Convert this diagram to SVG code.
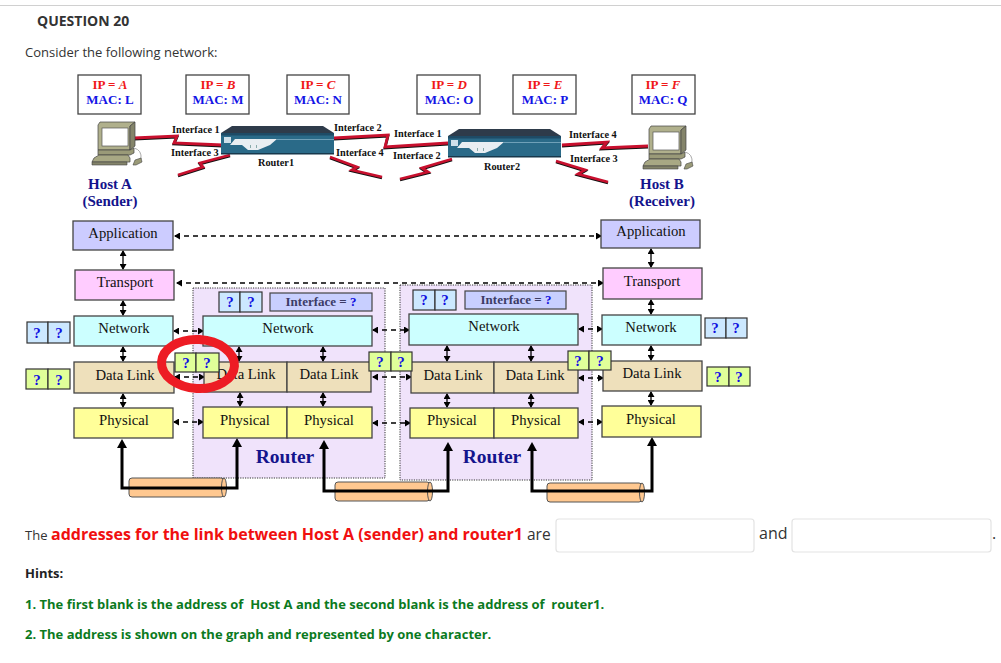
<svg xmlns="http://www.w3.org/2000/svg" xmlns:xlink="http://www.w3.org/1999/xlink" width="1001" height="663" viewBox="0 0 1001 663">
<style>
.s{font-family:"Liberation Serif","Times New Roman",serif}
.o{font-family:"Open Sans","Noto Sans",sans-serif}
.lay{font-family:"Liberation Serif",serif;font-size:14.7px;fill:#111;text-anchor:middle}
.box{stroke:#444;stroke-width:1.3}
.app{fill:#ccccff}.tra{fill:#ffccff}.net{fill:#ccffff}.dl{fill:#eee0bb}.phy{fill:#ffff99}
.q1{fill:#cce8ff;stroke:#333;stroke-width:1.2}.q2{fill:#e0ff99;stroke:#333;stroke-width:1.2}
.qt{font-family:"Liberation Serif",serif;font-size:15px;font-weight:bold;fill:#1010e0;text-anchor:middle}
.addr{fill:#fff;stroke:#444;stroke-width:1.3}
.ip{font-family:"Liberation Serif",serif;font-size:13px;font-weight:bold;fill:#f01818;text-anchor:middle}
.mac{font-family:"Liberation Serif",serif;font-size:13px;font-weight:bold;fill:#1414e6;text-anchor:middle}
.if{font-family:"Liberation Serif",serif;font-size:10.3px;font-weight:bold;fill:#111}
.host{font-family:"Liberation Serif",serif;font-size:15px;font-weight:bold;fill:#14148c;text-anchor:middle}
.rt{font-family:"Liberation Serif",serif;font-size:19.5px;font-weight:bold;fill:#14148c;text-anchor:middle}
.ifb{fill:#c8cfff;stroke:#444;stroke-width:1.2}
.ift{font-family:"Liberation Serif",serif;font-size:13px;font-weight:bold;fill:#3c3c66;text-anchor:middle}
.pur{fill:#f0e3fb;stroke:#333;stroke-width:1;stroke-dasharray:1.2 1.2}
.v{fill:none;stroke:#000;stroke-width:1.3;marker-start:url(#a);marker-end:url(#a)}
.d{fill:none;stroke:#000;stroke-width:1.3;stroke-dasharray:5 4;marker-start:url(#a);marker-end:url(#a)}
.t{fill:none;stroke:#000;stroke-width:3;marker-start:url(#b);marker-end:url(#b)}
.lr{fill:none;stroke:#c8102e;stroke-width:2.8}
.lb{fill:none;stroke:#111;stroke-width:2.8}
.cab{fill:#ffc890;stroke:#555;stroke-width:1}
.hint{font-family:"Open Sans","Noto Sans",sans-serif;font-size:13px;font-weight:bold;fill:#0b7a1e}
.inp{fill:#fff;stroke:#e3e3e3;stroke-width:1.2}
</style>
<defs>
<marker id="a" markerWidth="7" markerHeight="7" refX="5" refY="3.5" orient="auto-start-reverse" markerUnits="userSpaceOnUse"><path d="M0 0L6 3.5L0 7z" fill="#000"/></marker>
<marker id="b" markerWidth="10" markerHeight="10" refX="2" refY="5" orient="auto-start-reverse" markerUnits="userSpaceOnUse"><path d="M0 0L9 5L0 10z" fill="#000"/></marker>
<g id="pc">
<path d="M6 3L8 0H43L38 4V28H6z" fill="#b0b08c" stroke="#444" stroke-width=".7"/>
<path d="M38 4L43 0V24L38 28z" fill="#84846a" stroke="#444" stroke-width=".7"/>
<rect x="10" y="6" width="26" height="18" fill="#fff" stroke="#555" stroke-width=".7"/>
<path d="M6 28H38L42 26V31L38 33H6z" fill="#9a9a78" stroke="#444" stroke-width=".7"/>
<path d="M2 36L7 33H36L38 36V40H0z" fill="#a8a884" stroke="#444" stroke-width=".7"/>
<path d="M0 40H35V43H0z" fill="#84846a" stroke="#444" stroke-width=".6"/>
<path d="M42 26Q50 28 49 37" fill="none" stroke="#aaa" stroke-width="1"/>
<path d="M43 38L49 36L50 40L44 43H41z" fill="#9a9a78" stroke="#444" stroke-width=".6"/>
</g>
<g id="rtr">
<path d="M0 7L11 0H102L113 7z" fill="#2e3b4a"/>
<rect x="0" y="7" width="113" height="21" fill="#2a6a88"/>
<rect x="0" y="7" width="113" height="2.500" fill="#1e4b66"/>
<path d="M14 13H56L49 19L37 24H27L21 19H9z" fill="#e9eef2"/>
<path d="M56 13H113V14H56z" fill="#6fa0b8"/>
<rect x="3" y="11" width="7" height="6" fill="#cfe0ea"/>
<rect x="29" y="19" width="1" height="3" fill="#8aa"/><rect x="35" y="19" width="1" height="3" fill="#8aa"/>
<rect x="0" y="27" width="113" height="1.500" fill="#17384c"/>
</g>
</defs>
<rect width="1001" height="663" fill="#fff"/>

<g id="page-head">
<rect x="0" y="5" width="1001" height="1" fill="#d0d0d0"/>
<text class="o" x="37" y="26" font-size="14" font-weight="bold" fill="#333">QUESTION 20</text>
<text class="o" x="25" y="57" font-size="13" fill="#333">Consider the following network:</text>
</g>

<g id="routers-bg">
<rect class="pur" x="193" y="288" width="192" height="190"/>
<rect class="pur" x="400" y="285" width="192" height="195"/>
</g>

<g id="links">
<polyline class="lb" points="134,139 177,137 174,144 223,146"/><polyline class="lr" points="134,138 177,136 174,143 223,145"/>
<polyline class="lb" points="230,156 200,164 203,168 178,176"/><polyline class="lr" points="230,155 200,163 203,167 178,175"/>
<polyline class="lb" points="334,139 388,136 385,148 448,144"/><polyline class="lr" points="334,138 388,135 385,147 448,143"/>
<polyline class="lb" points="330,158 357,168 352,171 382,178"/><polyline class="lr" points="330,157 357,167 352,170 382,177"/>
<polyline class="lb" points="452,160 422,169 428,173 400,180"/><polyline class="lr" points="452,159 422,168 428,172 400,179"/>
<polyline class="lb" points="562,146 607,143 602,149 648,147"/><polyline class="lr" points="562,145 607,142 602,148 648,146"/>
<polyline class="lb" points="556,162 585,171 578,175 608,183"/><polyline class="lr" points="556,161 585,170 578,174 608,182"/>
</g>

<g id="host-a"><use xlink:href="#pc" href="#pc" x="92" y="122"/><text class="host" x="110" y="189">Host A</text><text class="host" x="110" y="206">(Sender)</text></g>
<g id="host-b"><use xlink:href="#pc" href="#pc" x="643" y="126"/><text class="host" x="662" y="189">Host B</text><text class="host" x="662" y="206">(Receiver)</text></g>
<g id="router1"><use xlink:href="#rtr" href="#rtr" x="221" y="126"/><text class="if" x="258" y="166">Router1</text></g>
<g id="router2"><use xlink:href="#rtr" href="#rtr" x="448" y="129"/><text class="if" x="484" y="170">Router2</text></g>

<g id="if-labels">
<text class="if" x="172" y="133">Interface 1</text>
<text class="if" x="171" y="156">Interface 3</text>
<text class="if" x="334" y="131">Interface 2</text>
<text class="if" x="336" y="156">Interface 4</text>
<text class="if" x="394" y="137">Interface 1</text>
<text class="if" x="393" y="159">Interface 2</text>
<text class="if" x="569" y="138">Interface 4</text>
<text class="if" x="570" y="162">Interface 3</text>
</g>

<g id="addr-a"><rect class="addr" x="78" y="75" width="63" height="39"/><text class="ip" x="110" y="89">IP = <tspan font-style="italic">A</tspan></text><text class="mac" x="110" y="104">MAC: L</text></g>
<g id="addr-b"><rect class="addr" x="186" y="75" width="63" height="39"/><text class="ip" x="218" y="89">IP = <tspan font-style="italic">B</tspan></text><text class="mac" x="218" y="104">MAC: M</text></g>
<g id="addr-c"><rect class="addr" x="287" y="75" width="62" height="39"/><text class="ip" x="318" y="89">IP = <tspan font-style="italic">C</tspan></text><text class="mac" x="318" y="104">MAC: N</text></g>
<g id="addr-d"><rect class="addr" x="417" y="75" width="63" height="39"/><text class="ip" x="449" y="89">IP = <tspan font-style="italic">D</tspan></text><text class="mac" x="449" y="104">MAC: O</text></g>
<g id="addr-e"><rect class="addr" x="513" y="75" width="63" height="39"/><text class="ip" x="545" y="89">IP = <tspan font-style="italic">E</tspan></text><text class="mac" x="545" y="104">MAC: P</text></g>
<g id="addr-f"><rect class="addr" x="632" y="75" width="63" height="39"/><text class="ip" x="663" y="89">IP = <tspan font-style="italic">F</tspan></text><text class="mac" x="663" y="104">MAC: Q</text></g>

<g id="cables">
<g><rect class="cab" x="129" y="478" width="95" height="19" rx="3"/><ellipse class="cab" cx="224" cy="487.5" rx="2.5" ry="9.5"/></g>
<g><rect class="cab" x="335" y="482" width="95" height="19" rx="3"/><ellipse class="cab" cx="430" cy="491.5" rx="2.5" ry="9.5"/></g>
<g><rect class="cab" x="547" y="483" width="95" height="19" rx="3"/><ellipse class="cab" cx="642" cy="492.5" rx="2.5" ry="9.5"/></g>
</g>

<g id="connectors">
<path class="d" d="M175 236H601"/>
<path class="d" d="M177 283H603"/>
<path class="d" d="M174 331H203"/>
<path class="d" d="M175 377H204"/>
<path class="d" d="M174 422H203"/>
<path class="d" d="M373 330H409"/>
<path class="d" d="M373 377H411"/>
<path class="d" d="M373 423H410"/>
<path class="d" d="M579 329H602"/>
<path class="d" d="M579 378H603"/>
<path class="d" d="M579 422H602"/>
<path class="v" d="M123 251V269"/><path class="v" d="M123 301V315"/><path class="v" d="M123 347V361"/><path class="v" d="M123 394V407"/>
<path class="v" d="M239 347V361"/><path class="v" d="M323 347V361"/><path class="v" d="M240 393V406"/><path class="v" d="M323 393V406"/>
<path class="v" d="M447 346V361"/><path class="v" d="M531 346V361"/><path class="v" d="M447 394V407"/><path class="v" d="M531 394V407"/>
<path class="v" d="M651 249V267"/><path class="v" d="M651 300V314"/><path class="v" d="M651 346V360"/><path class="v" d="M651 392V405"/>
<path class="t" d="M122 446V488H237V445"/>
<path class="t" d="M324 447V491H448V449"/>
<path class="t" d="M532 449V491H652V444"/>
</g>

<g id="a-app"><rect class="box app" x="73" y="221" width="100" height="29"/><text class="lay" x="123" y="238">Application</text></g>
<g id="a-tra"><rect class="box tra" x="75" y="270" width="99" height="30"/><text class="lay" x="125" y="287">Transport</text></g>
<g id="a-net"><rect class="box net" x="74" y="316" width="99" height="30"/><text class="lay" x="124" y="333">Network</text></g>
<g id="a-dl"><rect class="box dl" x="74" y="362" width="100" height="31"/><text class="lay" x="125" y="380">Data Link</text></g>
<g id="a-phy"><rect class="box phy" x="74" y="408" width="99" height="30"/><text class="lay" x="124" y="425">Physical</text></g>

<g id="r1-net"><rect class="box net" x="203" y="316" width="169" height="30"/><text class="lay" x="288" y="333">Network</text></g>
<g id="r1-dl"><rect class="box dl" x="204" y="362" width="83" height="30"/><rect class="box dl" x="287" y="362" width="84" height="30"/><text class="lay" x="246" y="379">Data Link</text><text class="lay" x="329" y="379">Data Link</text></g>
<g id="r1-phy"><rect class="box phy" x="203" y="407" width="84" height="31"/><rect class="box phy" x="287" y="407" width="85" height="31"/><text class="lay" x="245" y="425">Physical</text><text class="lay" x="329" y="425">Physical</text></g>
<g id="r1-if"><rect class="ifb" x="270" y="293" width="102" height="18"/><text class="ift" x="321" y="306">Interface = <tspan fill="#1010e0">?</tspan></text></g>
<text class="rt" x="285" y="463">Router</text>

<g id="r2-net"><rect class="box net" x="409" y="314" width="169" height="31"/><text class="lay" x="494" y="331">Network</text></g>
<g id="r2-dl"><rect class="box dl" x="411" y="362" width="83" height="31"/><rect class="box dl" x="494" y="362" width="84" height="31"/><text class="lay" x="453" y="380">Data Link</text><text class="lay" x="535" y="380">Data Link</text></g>
<g id="r2-phy"><rect class="box phy" x="410" y="408" width="84" height="30"/><rect class="box phy" x="494" y="408" width="84" height="30"/><text class="lay" x="452" y="425">Physical</text><text class="lay" x="536" y="425">Physical</text></g>
<g id="r2-if"><rect class="ifb" x="465" y="291" width="101" height="18"/><text class="ift" x="516" y="304">Interface = <tspan fill="#1010e0">?</tspan></text></g>
<text class="rt" x="492" y="463">Router</text>

<g id="b-app"><rect class="box app" x="601" y="220" width="99" height="28"/><text class="lay" x="651" y="236">Application</text></g>
<g id="b-tra"><rect class="box tra" x="603" y="268" width="99" height="31"/><text class="lay" x="652" y="286">Transport</text></g>
<g id="b-net"><rect class="box net" x="602" y="315" width="99" height="30"/><text class="lay" x="651" y="332">Network</text></g>
<g id="b-dl"><rect class="box dl" x="603" y="361" width="99" height="30"/><text class="lay" x="652" y="378">Data Link</text></g>
<g id="b-phy"><rect class="box phy" x="602" y="406" width="99" height="31"/><text class="lay" x="651" y="424">Physical</text></g>

<g id="ring"><ellipse cx="198" cy="364" rx="36.500" ry="24.500" fill="none" stroke="#ed1c24" stroke-width="9" transform="rotate(3 198 364)"/></g>

<g id="q-boxes">
<g><rect class="q1" x="27" y="322" width="21" height="21"/><rect class="q1" x="48" y="322" width="22" height="21"/><text class="qt" x="37" y="338">?</text><text class="qt" x="59" y="338">?</text></g>
<g><rect class="q2" x="26" y="369" width="22" height="20"/><rect class="q2" x="48" y="369" width="22" height="20"/><text class="qt" x="37" y="385">?</text><text class="qt" x="59" y="385">?</text></g>
<g><rect class="q2" x="175" y="353" width="21" height="19"/><rect class="q2" x="196" y="353" width="23" height="19"/><text class="qt" x="186" y="368">?</text><text class="qt" x="207" y="368">?</text></g>
<g><rect class="q1" x="219" y="292" width="21" height="20"/><rect class="q1" x="240" y="292" width="22" height="20"/><text class="qt" x="230" y="307">?</text><text class="qt" x="251" y="307">?</text></g>
<g><rect class="q2" x="369" y="352" width="22" height="19"/><rect class="q2" x="391" y="352" width="21" height="19"/><text class="qt" x="380" y="367">?</text><text class="qt" x="401" y="367">?</text></g>
<g><rect class="q1" x="413" y="290" width="22" height="20"/><rect class="q1" x="435" y="290" width="21" height="20"/><text class="qt" x="424" y="305">?</text><text class="qt" x="445" y="305">?</text></g>
<g><rect class="q2" x="568" y="351" width="21" height="19"/><rect class="q2" x="589" y="351" width="22" height="19"/><text class="qt" x="578" y="366">?</text><text class="qt" x="600" y="366">?</text></g>
<g><rect class="q1" x="705" y="318" width="21" height="20"/><rect class="q1" x="726" y="318" width="21" height="20"/><text class="qt" x="715" y="333">?</text><text class="qt" x="736" y="333">?</text></g>
<g><rect class="q2" x="707" y="367" width="22" height="19"/><rect class="q2" x="729" y="367" width="21" height="19"/><text class="qt" x="718" y="382">?</text><text class="qt" x="739" y="382">?</text></g>
</g>

<g id="question">
<text class="o" x="25" y="540" font-size="13" fill="#333">The</text>
<text class="o" x="51" y="540" font-size="16" font-weight="bold" fill="#f01010">addresses for the link between Host A (sender) and router1</text>
<text class="o" x="527" y="540" font-size="15.500" fill="#333">are</text>
<rect class="inp" x="556" y="519" width="198" height="33" rx="3"/>
<text class="o" x="759" y="539" font-size="16" fill="#333">and</text>
<rect class="inp" x="792" y="519" width="199" height="33" rx="3"/>
<text class="o" x="992" y="539" font-size="16" fill="#333">.</text>
<text class="o" x="25" y="578" font-size="13" font-weight="bold" fill="#222">Hints:</text>
<text class="hint" x="25" y="609" xml:space="preserve">1. The first blank is the address of  Host A and the second blank is the address of  router1.</text>
<text class="hint" x="25" y="639">2. The address is shown on the graph and represented by one character.</text>
</g>
</svg>
